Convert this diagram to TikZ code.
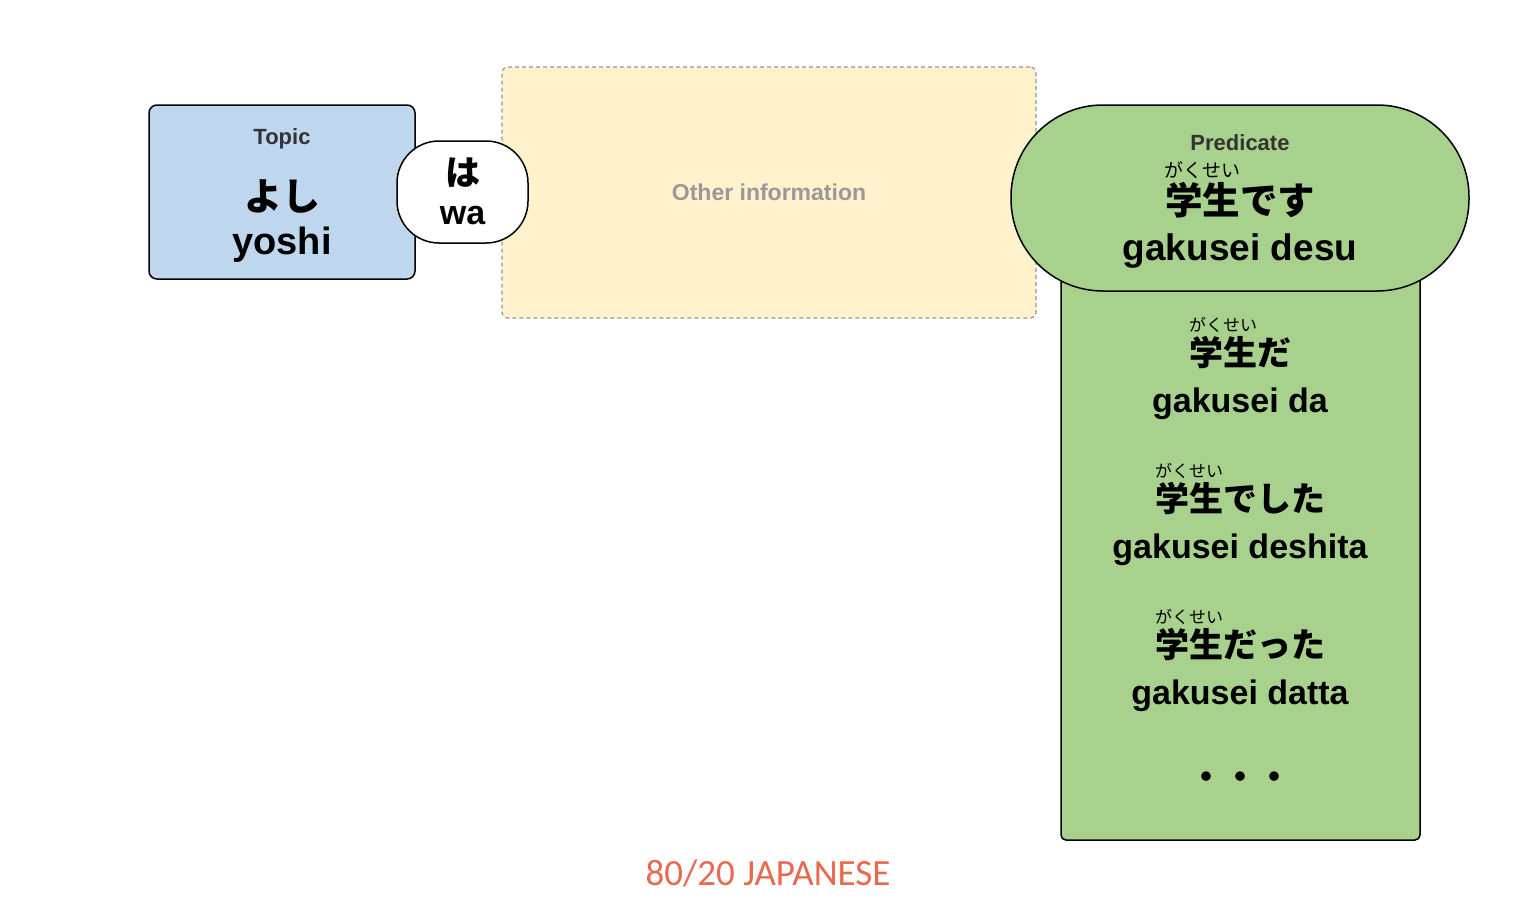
\documentclass[tikz,border=0pt]{standalone}
\usepackage{fontspec}
\setmainfont{Liberation Sans}
\newfontfamily\jp{Noto Sans CJK JP}
\newfontfamily\logofont{Carlito}
\usetikzlibrary{calc}
\definecolor{topicblue}{RGB}{190,215,238}
\definecolor{infoyellow}{RGB}{255,242,204}
\definecolor{predgreen}{RGB}{169,209,142}
\definecolor{dashgray}{RGB}{150,150,150}
\definecolor{labelgray}{RGB}{51,51,51}
\definecolor{infogray}{RGB}{153,153,153}
\definecolor{logored}{RGB}{234,104,78}
\newcommand{\fs}[1]{\fontsize{#1}{#1}\selectfont}
\begin{document}
\begin{tikzpicture}[x=1pt,y=-1pt,
  box/.style={draw=black, line width=1.5pt, inner sep=0, outer sep=0},
  topicbox/.style={box, fill=topicblue, rounded corners=8pt},
  bubble/.style={box, fill=white, rounded corners=42pt},
  infobox/.style={draw=dashgray, line width=1.2pt, dash pattern=on 4pt off 3pt, fill=infoyellow, rounded corners=6pt, inner sep=0},
  predbox/.style={box, fill=predgreen, rounded corners=92pt},
  listbox/.style={box, fill=predgreen, rounded corners=5pt},
  t/.style={inner sep=0, outer sep=0, anchor=base},
  label/.style={t, font=\bfseries\fs{22}, text=labelgray},
  roma/.style={t, font=\bfseries\fs{34}},
  kanji/.style={t, font=\jp\bfseries\fs{34}},
  ruby/.style={t, font=\jp\fs{17}},
]
\useasboundingbox (0,0) rectangle (1536,918);

% shapes
\node[infobox, minimum width=534, minimum height=251] (info) at (769,192.5) {};
\node[topicbox, minimum width=266, minimum height=174] (topic) at (282,192) {};
\node[bubble, minimum width=131, minimum height=102] (wa) at (462.5,192) {};
\node[listbox, minimum width=359, minimum height=570] (list) at (1240.5,555) {};
\node[predbox, minimum width=458, minimum height=186] (pred) at (1240,198) {};

% topic
\node[label] (topiclbl) at (282,144) {Topic};
\node[t, font=\jp\bfseries\fs{38}] (yoshijp) at (282,210) {よし};
\node[t, font=\bfseries\fs{38}] (yoshi) at (282,254.5) {yoshi};

% wa
\node[t, font=\jp\bfseries\fs{35}] (hajp) at (462.5,185) {は};
\node[t, font=\bfseries\fs{34}] (walbl) at (462.5,224) {wa};

% other info
\node[t, font=\bfseries\fs{23}, text=infogray] (infolbl) at (769,200) {Other information};

% predicate
\node[label] (predlbl) at (1240,150) {Predicate};
\node[t, font=\jp\bfseries\fs{37.5}] (k1) at (1240,214) {学生です};
\node[t, font=\jp\fs{19}] (r1) at ($(k1.base west)+(37.5pt,37pt)$) {がくせい};
\node[t, font=\bfseries\fs{37}] (g1) at (1240,260) {gakusei desu};

\node[kanji] (k2) at (1240,365) {学生だ};
\node[ruby] (r2) at ($(k2.base west)+(34pt,33.5pt)$) {がくせい};
\node[roma] (g2) at (1240,412.5) {gakusei da};

\node[kanji] (k3) at (1240,511) {学生でした};
\node[ruby] (r3) at ($(k3.base west)+(34pt,33.5pt)$) {がくせい};
\node[roma] (g3) at (1240,558.5) {gakusei deshita};

\node[kanji] (k4) at (1240,657) {学生だった};
\node[ruby] (r4) at ($(k4.base west)+(34pt,33.5pt)$) {がくせい};
\node[roma] (g4) at (1240,704.5) {gakusei datta};

\node[kanji] (dots) at (1240,789) {・・・};

% logo
\node[t, font=\logofont\fs{37}, text=logored] (logo) at (768,885) {80/20 JAPANESE};
\end{tikzpicture}
\end{document}
